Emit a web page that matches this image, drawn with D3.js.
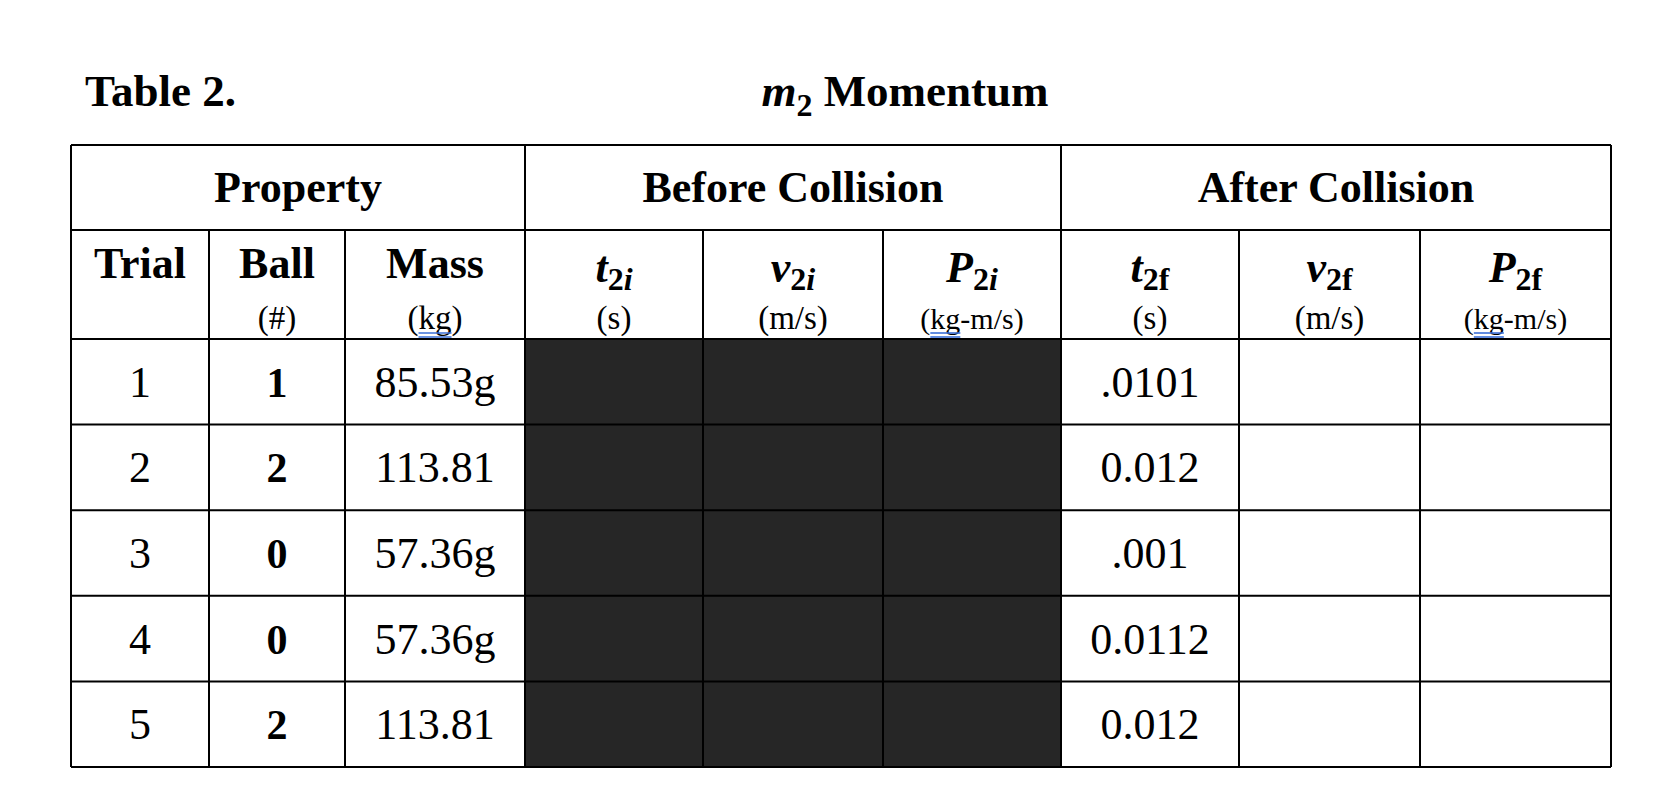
<!DOCTYPE html>
<html><head><meta charset="utf-8">
<script src="https://cdn.jsdelivr.net/npm/d3@7"></script>
<style>body{margin:0;background:#fff}svg{display:block}text{font-family:"Liberation Serif","Times New Roman",serif;fill:#000}</style>
</head><body><svg id="c" width="1662" height="804"></svg>
<script>
const groups = ["Property","Before Collision","After Collision"];
const colMain = ["Trial","Ball","Mass","t","v","P","t","v","P"];
const colSub = ["","","","2i","2i","2i","2f","2f","2f"];
const colUnit = ["","(#)","(kg)","(s)","(m/s)","(kg-m/s)","(s)","(m/s)","(kg-m/s)"];
const trials = ["1","2","3","4","5"];
const balls = ["1","2","0","0","2"];
const masses = ["85.53g","113.81","57.36g","57.36g","113.81"];
const t2f = [".0101","0.012",".001","0.0112","0.012"];
const shaded = [3,4,5];

(function(){
const svg = d3.select("#c");
const colEdges = [71,209,345,525,703,883,1061,1239,1420,1611];
const x = d3.scaleOrdinal().domain(d3.range(10)).range(colEdges);
const rowY = d3.scaleBand().domain(trials).range([339,767]);
const yTop = 145, h1 = 230;

svg.append("text").attr("x",85).attr("y",106).attr("font-size",45).attr("font-weight","bold").text("Table 2.");
const tt = svg.append("text").attr("x",905).attr("y",106).attr("font-size",45).attr("font-weight","bold").attr("text-anchor","middle");
tt.append("tspan").attr("font-style","italic").text("m");
tt.append("tspan").attr("dy",10).attr("font-size",32).text("2");
tt.append("tspan").attr("dy",-10).text(" Momentum");

trials.forEach((t,r)=>shaded.forEach(c=>{
  svg.append("rect").attr("x",x(c)).attr("y",rowY(t)).attr("width",x(c+1)-x(c)).attr("height",rowY.bandwidth()).attr("fill","#262626");
}));

const gSpan=[[0,3],[3,6],[6,9]];
groups.forEach((g,i)=>{
  svg.append("text").attr("x",(x(gSpan[i][0])+x(gSpan[i][1]))/2).attr("y",(yTop+h1)/2+14)
    .attr("text-anchor","middle").attr("font-size",44).attr("font-weight","bold").text(g);
});
colMain.forEach((m,i)=>{
  const cx=(x(i)+x(i+1))/2;
  const t=svg.append("text").attr("x",cx).attr("y",i<3?278:282).attr("text-anchor","middle").attr("font-size",44).attr("font-weight","bold");
  if(i<3) t.text(m);
  else {
    t.append("tspan").attr("font-style","italic").text(m);
    t.append("tspan").attr("dy",8).attr("font-size",32).text("2");
    t.append("tspan").attr("font-size",32).attr("font-style",colSub[i].endsWith("i")?"italic":"normal").text(colSub[i].slice(1));
  }
  if(colUnit[i]){
    const u=svg.append("text").attr("x",cx).attr("y",329).attr("text-anchor","middle").attr("font-size",i===5||i===8?30:33).text(colUnit[i]);
    if(colUnit[i].startsWith("(kg")){
      try{
        const node=u.node();
        const x0=node.getStartPositionOfChar(1).x, x1=node.getEndPositionOfChar(2).x;
        [333,337].forEach(yy=>svg.append("line").attr("x1",x0).attr("x2",x1).attr("y1",yy).attr("y2",yy).attr("stroke","#3a6fd8").attr("stroke-width",1.6));
      }catch(e){}
    }
  }
});
const cols=[trials,balls,masses,null,null,null,t2f];
trials.forEach((t,r)=>{
  cols.forEach((arr,c)=>{
    if(!arr) return;
    svg.append("text").attr("x",(x(c)+x(c+1))/2).attr("y",rowY(t)+rowY.bandwidth()/2+15)
      .attr("text-anchor","middle").attr("font-size",c===1?42:44).attr("font-weight",c===1?"bold":"normal").text(arr[r]);
  });
});
const L=svg.append("g").attr("stroke","#000").attr("stroke-width",2);
[yTop,h1,339,...trials.map(t=>rowY(t)+rowY.bandwidth())].forEach(y=>L.append("line").attr("x1",71).attr("x2",1611).attr("y1",y).attr("y2",y));
colEdges.forEach((cx,i)=>{
  const full = i===0||i===3||i===6||i===9;
  L.append("line").attr("x1",cx).attr("x2",cx).attr("y1",full?yTop:h1).attr("y2",767);
});
})();
</script></body></html>
